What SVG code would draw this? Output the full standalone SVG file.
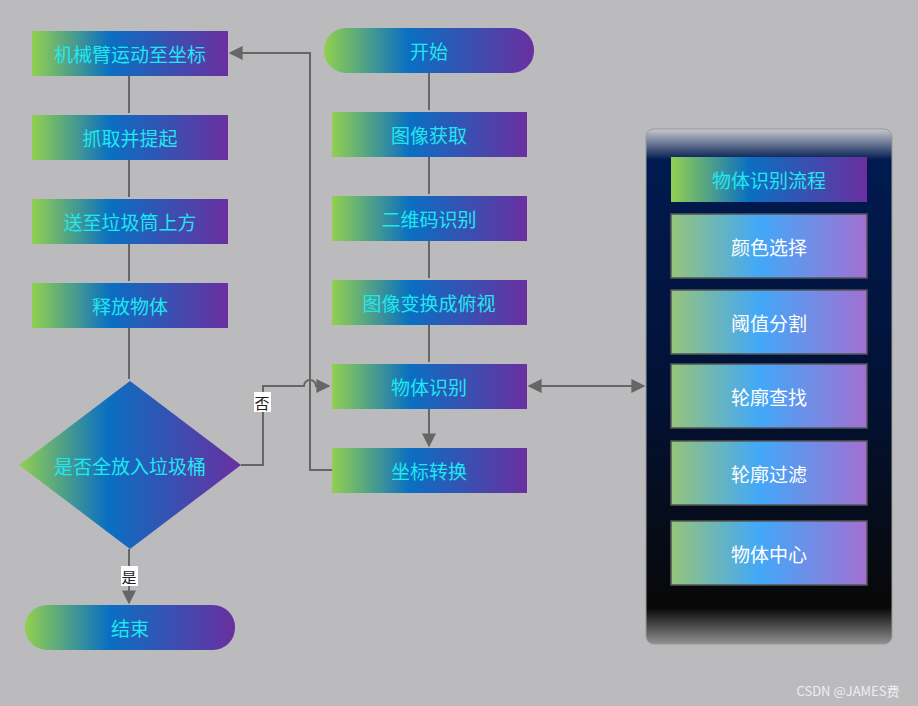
<svg xmlns="http://www.w3.org/2000/svg" width="918" height="706" viewBox="0 0 918 706">
<defs>
<linearGradient id="g1" x1="0" x2="1" y1="0" y2="0"><stop offset="0" stop-color="#92d050"/><stop offset="0.4" stop-color="#0a6fc2"/><stop offset="1" stop-color="#6a2fa0"/></linearGradient>
<linearGradient id="g2" x1="0" x2="1" y1="0" y2="0"><stop offset="0" stop-color="#96c47a"/><stop offset="0.45" stop-color="#42a8f8"/><stop offset="1" stop-color="#a270d2"/></linearGradient>
<linearGradient id="gp" x1="0" x2="0" y1="0" y2="1"><stop offset="0" stop-color="#c8c8d0"/><stop offset="0.06" stop-color="#001a50"/><stop offset="0.5" stop-color="#021236"/><stop offset="0.93" stop-color="#080808"/><stop offset="1" stop-color="#909090"/></linearGradient>
<marker id="a" viewBox="0 0 10 10" refX="9" refY="5" markerWidth="14" markerHeight="14" markerUnits="userSpaceOnUse" orient="auto-start-reverse"><path d="M0,0L10,5L0,10z" fill="#666"/></marker>
<style>
.t{font-family:"Noto Sans CJK SC","Noto Sans",sans-serif;font-size:19px;fill:#1ee8f0;text-anchor:middle;dominant-baseline:central}
.w{fill:#fff}
.c{fill:none;stroke:#666;stroke-width:2}
.b{fill:url(#g1)}
.p{fill:url(#g2);stroke:#555;stroke-width:1.5}
.l{font-family:"Noto Sans CJK SC",sans-serif;font-size:15px;text-anchor:middle;dominant-baseline:central;fill:#222}
</style>
</defs>
<rect width="918" height="706" fill="#bbbabd"/>
<g id="panel"><rect x="646" y="129" width="246" height="515" rx="8" fill="url(#gp)" stroke="#999"/></g>
<g id="connectors">
<path class="c" d="M129,76V113M129,160V197M129,244V281M129,328V379M129,549V603" marker-end="url(#a)"/>
<path class="c" d="M429,73V110M429,157V194M429,241V278M429,325V362M429,409V446" marker-end="url(#a)"/>
<path class="c" d="M241,465H263V386H304A6,6 0 0 1 316,386H329" marker-end="url(#a)"/>
<path class="c" d="M332,470H310V53H230" marker-end="url(#a)"/>
<path class="c" d="M529,386H644" marker-start="url(#a)" marker-end="url(#a)"/>
<rect x="254" y="392" width="17" height="20" fill="#fff"/><text class="l" x="262" y="402">否</text>
<rect x="121" y="566" width="17" height="20" fill="#fff"/><text class="l" x="129" y="576">是</text>
</g>
<g id="n1"><rect class="b" x="32" y="31" width="196" height="45"/><text class="t" x="130" y="53">机械臂运动至坐标</text></g>
<g id="n2"><rect class="b" x="32" y="115" width="196" height="45"/><text class="t" x="130" y="137">抓取并提起</text></g>
<g id="n3"><rect class="b" x="32" y="199" width="196" height="45"/><text class="t" x="130" y="221">送至垃圾筒上方</text></g>
<g id="n4"><rect class="b" x="32" y="283" width="196" height="45"/><text class="t" x="130" y="305">释放物体</text></g>
<g id="n5"><path class="b" d="M130,381L241,465L130,549L19,465z"/><text class="t" x="130" y="465">是否全放入垃圾桶</text></g>
<g id="n6"><rect class="b" x="25" y="605" width="210" height="45" rx="22"/><text class="t" x="130" y="627">结束</text></g>
<g id="m0"><rect class="b" x="324" y="28" width="210" height="45" rx="22"/><text class="t" x="429" y="50">开始</text></g>
<g id="m1"><rect class="b" x="332" y="112" width="195" height="45"/><text class="t" x="429" y="134">图像获取</text></g>
<g id="m2"><rect class="b" x="332" y="196" width="195" height="45"/><text class="t" x="429" y="218">二维码识别</text></g>
<g id="m3"><rect class="b" x="332" y="280" width="195" height="45"/><text class="t" x="429" y="302">图像变换成俯视</text></g>
<g id="m4"><rect class="b" x="332" y="364" width="195" height="45"/><text class="t" x="429" y="386">物体识别</text></g>
<g id="m5"><rect class="b" x="332" y="448" width="195" height="45"/><text class="t" x="429" y="470">坐标转换</text></g>
<g id="p0"><rect class="b" x="671" y="157" width="196" height="45"/><text class="t" x="769" y="179">物体识别流程</text></g>
<g id="p1"><rect class="p" x="671" y="214" width="196" height="64"/><text class="t w" x="769" y="246">颜色选择</text></g>
<g id="p2"><rect class="p" x="671" y="290" width="196" height="64"/><text class="t w" x="769" y="322">阈值分割</text></g>
<g id="p3"><rect class="p" x="671" y="364" width="196" height="64"/><text class="t w" x="769" y="396">轮廓查找</text></g>
<g id="p4"><rect class="p" x="671" y="441" width="196" height="64"/><text class="t w" x="769" y="473">轮廓过滤</text></g>
<g id="p5"><rect class="p" x="671" y="521" width="196" height="64"/><text class="t w" x="769" y="553">物体中心</text></g>
<text x="848" y="690" font-family="Noto Sans CJK SC,sans-serif" font-size="13" fill="#eee" text-anchor="middle" dominant-baseline="central">CSDN @JAMES费</text>
</svg>
